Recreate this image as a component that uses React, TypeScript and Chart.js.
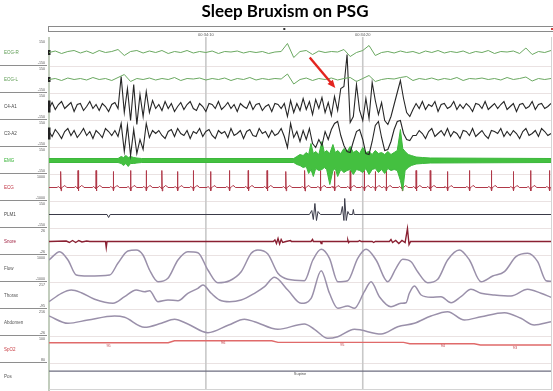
import React, { useEffect, useRef } from 'react';
import { Chart, registerables } from 'chart.js';

Chart.register(...registerables);

// ---------------- text ----------------
const TITLE = 'Sleep Bruxism on PSG';
const EPOCH_SECONDS = 32;
const gridTimes = [10, 20];
const gridTimeLabels = ['00:34:10', '00:34:20'];
const cursorTime = 15;

const channelNames = ['EOG-R', 'EOG-L', 'C4-A1', 'C3-A2', 'EMG', 'ECG', 'PLM1', 'Snore', 'Flow', 'Thorax', 'Abdomen', 'SpO2', 'Pos'];
const channelTopLabels = ['150', '150', '150', '150', '150', '1000', '150', '26', '1000', '217', '216', '100', ''];
const channelBottomLabels = ['-150', '-150', '-150', '-150', '-150', '-1000', '-150', '-26', '-1000', '-95', '-26', '80', ''];
// display range of each channel (value at top / bottom of its row)
const channelHigh = [13.5, 13.5, 13.5, 13.5, 13.5, 13.5, 13.5, 13.5, 13.5, 13.5, 13.5, 100, 4];
const channelLow = [-13.5, -13.5, -13.5, -13.5, -13.5, -13.5, -13.5, -13.5, -13.5, -13.5, -13.5, 80, 0];

// ---------------- signals ----------------
// EOG, sampled every 0.4 s
const eogR = [0, 1.5, -1, 1, 2, -0.5, 1.5, -1, 2, 0, 1, 3, -3, 1, 2, -0.5, 1.5, 0, 2, -1, 1, 0, 2, -0.5, 1, 0, 1.5, -1, 1, 0.5, 1.5, -0.5, 1, 0, 1, -1, 0.5, 1, 9, -5, 1, 2, -2, 1.5, 0, 1, 0.5, 3, -4, 0, 2, 7, -3, 0, 1, -0.5, 1.5, 0, 1, -1, 1.5, 0, 2, -0.5, 1, 0, 1.5, -1, 1, 0, 2, -1, 1, 0.5, 1.5, -1, 4.5, -2, 1, 0, 2];
const eogL = [0, 1, -1, 1.5, 0, 1, -0.5, 2, 0, 1, -1, 2, 5, -2, 1, 0, 1.5, -0.5, 1, 0, 2, -1, 1, 0.5, 1.5, -0.5, 1, 0, 1.5, -1, 1, 0, 2, -0.5, 1, 0, 1, 0.5, 5.5, -4.5, 0, 1.5, -1, 1, 0, 1.5, -0.5, 1, 2, -2, 1, 4, -2, 0, 1, 0.5, 2, 3, -1, 1, 0, 1.5, -0.5, 1, 0, 2, -1, 1, 0.5, 1.5, 0, 1, -0.5, 2, 0, 1, 2.5, -1.5, 1, 0, 1];
// EEG, sampled every 0.2 s
const c4a1 = [
  -2, 4, -3, 2, 5, -2, 1, 4, -5, 2, 3, -4, 0, 5, -2, 2, -4, 3, 0, -5, 2, 4, -2,
  30, -6, 18, -14, 22, -18, 12, -10, 15, -6, 6, -2,
  2, -4, 5, -2, 3, -5, 0, 4, -3, 2, 5, -2, -4, 3, 0, -5, 3, 2, -2, 5, -3, 0, 4, -2, 2, -5, 3, 0, -2, 5, -3, 2, 3, -4, 0, 2, -5, 3, 2, -2, 3,
  -10, 6, -6, 3, -4, 8, -3, 5, -8, 7, -2, 9, -6, 4, -9, 10, -4, 18, 20, 52, -16, -10, 22, -4, -14, 8, -12, 24, 6, -8, 4, -14, -18, -10, 2, 14, 26, 8, -6, -10, -3,
  3, -2, 5, -3, 2, 0, 5, -5, 2, 3, -2, 0, 5, -3, 2, -2, 3, 0, -5, 3, 2, -2, 5, -3, 0, 3, -2, 2, 5, -3, 0, 3, -5, 2, 3, -2, 0, 5, -3, 2, 3, -2, 0, 3,
];
const c3a2 = [
  2, -3, 4, 0, -5, 2, 5, -2, 3, -4, 0, 5, -2, 2, -5, 3, 0, -4, 5, 2, -2, 3, -3,
  10, -18, 8, -22, 4, -20, -6, -16, 10, -4, 3, 0,
  3, -2, -5, 2, 4, -3, 5, 0, -2, 3, -5, 2, 0, 5, -3, 2, 4, -2, -5, 3, 0, 2, -4, 5, -2, 0, 3, -5, 2, 4, -2, -3, 5, 0, 2, -4, 3, -2, 0, 5, -3,
  -14, 10, -4, 2, -8, 3, -6, 5, -10, -14, -6, -12, 2, -6, 4, 10, 12, -2, -12, -18, -19, -8, 2, 4, -6, -20, -21, -8, 8, 12, -4, -17, -16, -8, 4, 12, 13, 0, -6, -7, -2,
  -2, 3, 0, -5, 2, 5, -3, 0, 3, -2, 5, -3, 2, 0, -5, 3, 2, -2, 5, -3, 0, 3, -2, -5, 3, 2, 0, 5, -3, 2, -2, 3, 0, -5, 2, 5, -2, 0, 3, -3, 5, 2, -2, 0,
];
// EMG envelope
const emgTimes = [0, 4.4, 4.6, 4.75, 4.9, 5.05, 5.2, 5.4, 5.6, 5.9, 15.6, 15.8, 16.0, 16.2, 16.4, 16.55, 16.7, 16.85, 17.0, 17.2, 17.4, 17.55, 17.7, 17.9, 18.1, 18.25, 18.4, 18.6, 18.8, 19.0, 19.2, 19.4, 19.6, 19.8, 20.0, 20.2, 20.4, 20.6, 20.8, 21.0, 21.2, 21.4, 21.6, 21.8, 22.0, 22.2, 22.4, 22.55, 22.7, 22.9, 23.1, 23.4, 23.8, 24.3, 32];
const emgHigh = [2, 2, 4, 3, 5, 3, 4, 3, 2.5, 2, 2, 4, 6, 5, 8, 6, 17, 7, 9, 6, 19, 8, 10, 7, 16, 8, 10, 7, 12, 9, 14, 8, 10, 7, 13, 8, 9, 6, 10, 7, 8, 6, 9, 6, 8, 10, 31, 12, 9, 6, 5, 3.5, 3, 2.5, 2];
const emgLow = [-2, -2, -3, -5, -3, -6, -3, -3, -2.5, -2, -2, -4, -5, -7, -6, -13, -9, -16, -8, -10, -9, -7, -9, -24, -10, -8, -16, -9, -12, -10, -9, -14, -9, -10, -12, -8, -14, -9, -8, -12, -9, -13, -8, -10, -9, -10, -20, -30, -10, -7, -5, -3.5, -3, -2.5, -2];
// ECG: R-peak times, R heights and one beat shape
const ecgBeats = [0.75, 1.85, 3.0, 4.1, 5.2, 6.2, 7.2, 8.2, 9.2, 10.3, 11.5, 12.7, 13.9, 15.1, 16.3, 17.3, 18.2, 19.2, 20.1, 20.8, 21.5, 22.5, 23.4, 24.3, 25.4, 26.8, 28.2, 29.6, 30.7, 31.9];
const ecgHeights = [16, 17, 17, 16, 17, 17, 17, 16, 17, 16, 17, 17, 17, 16, 17, 17, 16, 17, 17, 16, 17, 16, 17, 17, 16, 17, 17, 16, 17, 17];
const ecgShapeT = [-0.22, -0.16, -0.1, -0.04, -0.015, 0, 0.02, 0.05, 0.12, 0.22, 0.3, 0.38];
const ecgShapeV = [0, 1.2, 0, 0, -1.5, 17, -3.5, 0, 0.3, 2, 1.5, 0];
// PLM1
const plmTimes = [0, 3.7, 3.8, 3.9, 16.6, 16.75, 16.85, 16.95, 17.05, 17.15, 17.3, 18.6, 18.7, 18.8, 18.85, 18.95, 19.05, 19.15, 19.35, 19.4, 19.45, 32];
const plmValues = [0, 0, -3, 0, 0, 4, -5, 11, -6, 3, 0, 0, 8, -6, 16, -6, 3, 0, 0, 5, 0, 0];
// Snore
const snoreTimes = [0, 1.1, 1.3, 1.5, 1.7, 1.9, 2.1, 2.4, 2.6, 3.6, 3.65, 3.7, 14.3, 14.4, 14.5, 14.6, 14.7, 14.8, 14.9, 15.1, 15.4, 15.45, 16.7, 16.8, 16.85, 17.3, 17.35, 17.4, 19.0, 19.05, 19.1, 19.15, 19.7, 19.8, 19.9, 20.6, 20.7, 20.8, 21.7, 21.8, 21.9, 22.1, 22.3, 22.5, 22.7, 22.85, 22.95, 23.05, 32];
const snoreValues = [0, 0.5, -1, 1, -1, 1, -0.5, 0.5, 0, 0, -6, 0, 0, 1.5, -2, 3, -2.5, 2, -1, 0, 1, 0, 0, 2, 0, 0, -2, 0, 0, 1.5, -1, 0, 0, 1, 0, 0, -1, 0, 0, 2, -1, 1, -2, 1, -1, 13, -3, 0, 0];
// Respiration
const flowTimes = [0, 0.68, 1.21, 1.74, 2.48, 3.87, 4.39, 5.03, 5.56, 5.99, 6.41, 6.94, 7.58, 8.22, 8.85, 9.49, 10.13, 10.76, 11.51, 12.25, 12.89, 13.31, 13.95, 14.59, 15.22, 16.28, 16.82, 17.35, 17.88, 18.41, 19.04, 19.68, 20.21, 20.85, 21.59, 22.12, 22.55, 23.08, 23.5, 24.14, 24.78, 25.41, 26.16, 26.8, 27.54, 28.28, 29.03, 29.77, 30.51, 31.15, 31.68, 32];
const flowValues = [8.5, 16.8, 8.5, -6.5, -7.5, -6.5, 5.2, 17.5, 18.5, 13.5, -1.5, -13.2, -9.8, 8.5, 16.8, 15.8, -1.5, -14.2, -12.2, -3.2, 15.2, 18.5, 14.5, -4.8, -10.8, -12.2, 8.5, 19.2, 10.2, -13.2, -12.2, 10.2, 19.2, 8.5, -13.2, 0.2, 9.2, 6.8, -3.2, -14.2, -10.8, 8.5, 18.5, 8.5, -13.2, -7.5, -3.2, 11.8, 15.2, 6.8, -12.2, -12.8];
const thoraxTimes = [0, 0.79, 1.42, 2.06, 2.91, 4.08, 4.82, 5.56, 6.09, 6.41, 6.94, 7.58, 8.22, 8.85, 9.49, 9.81, 10.34, 10.87, 11.51, 12.25, 13.1, 13.74, 14.37, 15.22, 16.07, 16.71, 17.35, 17.88, 18.41, 19.04, 19.47, 20.1, 20.53, 21.06, 21.8, 22.44, 22.76, 22.97, 23.29, 23.72, 24.35, 24.99, 25.63, 26.26, 26.9, 27.54, 28.39, 29.45, 30.51, 31.36, 32];
const thoraxValues = [-6.2, 2.2, 5.5, 2.8, -3.8, -7.8, -1.2, 5.5, 3.8, 4.8, -6.2, -4.5, -5.2, 2.2, 7.2, 10.5, 2.2, -4.5, -6.2, -4.5, 2.2, 8.8, 18.2, 5.5, -7.8, -2.8, 24.8, 2.2, -12.8, -10.5, -12.8, 3.8, 13.8, -1.2, -11.2, -7.8, -7.2, 2.2, 9.5, 0.5, -1.8, -1.2, -7.2, -1.2, 6.2, 2.2, 0.5, -0.5, 6.2, 2.2, -1.8];
const abdomenTimes = [0, 1.21, 2.48, 4.18, 4.82, 6.09, 7.16, 8.0, 8.85, 10.13, 11.45, 12.46, 13.1, 14.59, 16.28, 16.92, 17.77, 18.41, 19.47, 21.17, 22.23, 23.29, 24.35, 25.41, 26.48, 27.54, 29.03, 30.08, 30.93, 32];
const abdomenValues = [6.5, -0.8, 2.5, 6.5, 5.2, -4.8, -0.8, 3.2, -1.5, -10.2, -2.5, 3.2, 0.8, -6.8, -1.5, -6.8, -15.8, -14.2, -6.8, -11.5, -4.2, -0.8, 6.5, 10.8, 2.5, 5.8, 9.8, 4.2, -2.5, 0.8];
// SpO2 (%)
const spo2Times = [0, 7.6, 8.0, 14.2, 14.6, 22.6, 23.0, 27.1, 27.5, 32];
const spo2Values = [95, 95, 96.5, 96.5, 95.3, 95.3, 94.3, 94.3, 93.3, 93.3];
const spo2LabelTimes = [3.8, 11.1, 18.7, 25.1, 29.7];
// Body position
const posTimes = [0, 32];
const posStates = ['Supine', 'Supine'];
const posLevels: Record<string, number> = { Supine: 2.8 };

// annotation arrow (time s, row units)
const arrowTail = { t: 16.62, row: 0.685 };
const arrowTip = { t: 18.25, row: 1.815 };

// ---------------- helpers ----------------
const labelColors = ['#5a9a50', '#5a9a50', '#444', '#444', '#30b030', '#c03040', '#444', '#a02040', '#555', '#555', '#555', '#c83a40', '#555'];

const toRow = (ch: number, v: number) => ch + (channelHigh[ch] - v) / (channelHigh[ch] - channelLow[ch]);
const uniform = (ch: number, arr: number[]) => arr.map((v, i) => ({ x: (i * EPOCH_SECONDS) / (arr.length - 1), y: toRow(ch, v) }));
const paired = (ch: number, ts: number[], vs: number[]) => ts.map((t, i) => ({ x: t, y: toRow(ch, vs[i]) }));

function buildEcg() {
  const pts = [{ x: 0, y: toRow(5, 0) }];
  ecgBeats.forEach((bt, b) => {
    const k = ecgHeights[b] / 17;
    ecgShapeT.forEach((dt, j) => pts.push({ x: bt + dt, y: toRow(5, ecgShapeV[j] * k) }));
  });
  return pts;
}

function spo2At(t: number) {
  let v = spo2Values[0];
  for (let i = 0; i < spo2Times.length; i++) if (spo2Times[i] <= t) v = spo2Values[i];
  return v;
}

const line = (data: any[], color: string, width: number, extra: any = {}) => ({
  data,
  borderColor: color,
  borderWidth: width,
  pointRadius: 0,
  tension: 0,
  fill: false,
  ...extra,
});

const psgPlugin = {
  id: 'psg',
  beforeDatasetsDraw(chart: any) {
    const { ctx, chartArea, scales } = chart;
    const { left, right, top, bottom } = chartArea;
    const x = scales.x;
    const y = scales.y;
    ctx.save();
    // row boundaries inside plot
    ctx.strokeStyle = 'rgba(226,214,214,0.9)';
    ctx.lineWidth = 0.8;
    for (let k = 1; k < channelNames.length; k++) {
      const py = Math.round(y.getPixelForValue(k)) + 0.5;
      ctx.beginPath();
      ctx.moveTo(left, py);
      ctx.lineTo(right, py);
      ctx.stroke();
    }
    // separators in label column
    ctx.strokeStyle = '#8e8e8e';
    ctx.lineWidth = 1;
    for (let k = 1; k < channelNames.length; k++) {
      const py = Math.round(y.getPixelForValue(k)) - 0.5;
      ctx.beginPath();
      ctx.moveTo(0, py);
      ctx.lineTo(left - 2, py);
      ctx.stroke();
    }
    // vertical grid
    ctx.strokeStyle = '#c8c8c8';
    ctx.lineWidth = 1.6;
    gridTimes.forEach((t) => {
      const px = x.getPixelForValue(t);
      ctx.beginPath();
      ctx.moveTo(px, top - 2);
      ctx.lineTo(px, bottom);
      ctx.stroke();
    });
    // borders
    ctx.strokeStyle = '#c2cdbd';
    ctx.lineWidth = 2;
    ctx.beginPath();
    ctx.moveTo(left, top - 2);
    ctx.lineTo(left, bottom + 1);
    ctx.stroke();
    ctx.strokeStyle = '#d4d4d4';
    ctx.lineWidth = 1;
    ctx.beginPath();
    ctx.moveTo(right + 0.5, top - 2);
    ctx.lineTo(right + 0.5, bottom);
    ctx.moveTo(left, bottom - 0.5);
    ctx.lineTo(right, bottom - 0.5);
    ctx.stroke();
    // time bar
    ctx.strokeStyle = '#8a8a8a';
    ctx.lineWidth = 1;
    ctx.strokeRect(left - 0.5, 26.5, right - left + 3, 5);
    ctx.fillStyle = '#333';
    ctx.fillRect(x.getPixelForValue(cursorTime) - 1, 28, 2, 2);
    ctx.fillStyle = '#d04040';
    ctx.fillRect(right, 28, 2, 2);
    // time labels
    ctx.font = '4px "Liberation Sans"';
    ctx.fillStyle = '#555';
    ctx.textAlign = 'center';
    ctx.textBaseline = 'middle';
    gridTimes.forEach((t, i) => ctx.fillText(gridTimeLabels[i], x.getPixelForValue(t), 35));
    // channel names and scale labels
    channelNames.forEach((name, i) => {
      const cy = y.getPixelForValue(i + 0.5);
      ctx.font = '4.5px "Liberation Sans"';
      ctx.fillStyle = labelColors[i];
      ctx.textAlign = 'left';
      ctx.textBaseline = 'middle';
      ctx.fillText(name, 4, cy);
      ctx.font = '3.6px "Liberation Sans"';
      ctx.fillStyle = '#555';
      ctx.textAlign = 'right';
      ctx.textBaseline = 'top';
      if (channelTopLabels[i]) ctx.fillText(channelTopLabels[i], left - 4, y.getPixelForValue(i) + 1);
      ctx.textBaseline = 'bottom';
      if (channelBottomLabels[i]) ctx.fillText(channelBottomLabels[i], left - 4, y.getPixelForValue(i + 1) - 1.5);
    });
    // calibration markers
    ctx.fillStyle = '#222';
    [[0, 5], [1, 5], [2, 12], [3, 12]].forEach(([ch, h]) => {
      const cy = y.getPixelForValue(ch + 0.5);
      ctx.fillRect(left - 1, cy - h / 2, 2.5, h);
    });
    ctx.restore();
  },
  afterDatasetsDraw(chart: any) {
    const { ctx, scales } = chart;
    const x = scales.x;
    const y = scales.y;
    ctx.save();
    // SpO2 value labels
    ctx.font = '3.8px "Liberation Sans"';
    ctx.fillStyle = '#c04048';
    ctx.textAlign = 'center';
    ctx.textBaseline = 'top';
    spo2LabelTimes.forEach((t) => {
      const v = spo2At(t);
      ctx.fillText(String(Math.floor(v)), x.getPixelForValue(t), y.getPixelForValue(toRow(11, v)) + 0.8);
    });
    // position label
    ctx.fillStyle = '#555';
    ctx.font = '4px "Liberation Sans"';
    const mid = (posTimes[0] + posTimes[posTimes.length - 1]) / 2;
    ctx.fillText(posStates[0], x.getPixelForValue(mid), y.getPixelForValue(toRow(12, posLevels[posStates[0]])) + 0.8);
    // arrow
    const x0 = x.getPixelForValue(arrowTail.t);
    const y0 = y.getPixelForValue(arrowTail.row);
    const x1 = x.getPixelForValue(arrowTip.t);
    const y1 = y.getPixelForValue(arrowTip.row);
    const ang = Math.atan2(y1 - y0, x1 - x0);
    const head = 8;
    ctx.strokeStyle = '#e3241f';
    ctx.fillStyle = '#e3241f';
    ctx.lineWidth = 2.4;
    ctx.beginPath();
    ctx.moveTo(x0, y0);
    ctx.lineTo(x1 - head * 0.8 * Math.cos(ang), y1 - head * 0.8 * Math.sin(ang));
    ctx.stroke();
    ctx.beginPath();
    ctx.moveTo(x1, y1);
    ctx.lineTo(x1 - head * Math.cos(ang) + 3.5 * Math.sin(ang), y1 - head * Math.sin(ang) - 3.5 * Math.cos(ang));
    ctx.lineTo(x1 - head * Math.cos(ang) - 3.5 * Math.sin(ang), y1 - head * Math.sin(ang) + 3.5 * Math.cos(ang));
    ctx.closePath();
    ctx.fill();
    // title
    ctx.fillStyle = '#000';
    ctx.font = 'bold 17px Lato';
    ctx.textAlign = 'center';
    ctx.textBaseline = 'alphabetic';
    ctx.fillText(TITLE, 285, 17);
    ctx.restore();
  },
};

export default function App() {
  const ref = useRef<HTMLCanvasElement>(null);
  useEffect(() => {
    if (!ref.current) return;
    const resp = { tension: 0.4, cubicInterpolationMode: 'monotone' };
    const chart = new Chart(ref.current, {
      type: 'line',
      data: {
        datasets: [
          line(uniform(0, eogR), '#6aa860', 1),
          line(uniform(1, eogL), '#6aa860', 1),
          line(uniform(2, c4a1), '#262626', 1.1),
          line(uniform(3, c3a2), '#262626', 1.1),
          line(paired(4, emgTimes, emgHigh), '#3cb83c', 1),
          line(paired(4, emgTimes, emgLow), '#3cb83c', 1, { fill: '-1', backgroundColor: '#44c040' }),
          line(buildEcg(), '#b03848', 1),
          line(paired(6, plmTimes, plmValues), '#3a3a48', 1),
          line(paired(7, snoreTimes, snoreValues), '#8a2032', 1.4),
          line(paired(8, flowTimes, flowValues), '#9a90aa', 1.5, resp),
          line(paired(9, thoraxTimes, thoraxValues), '#9a90aa', 1.5, resp),
          line(paired(10, abdomenTimes, abdomenValues), '#9a90aa', 1.5, resp),
          line(paired(11, spo2Times, spo2Values), '#e06a6a', 1.4),
          line(posTimes.map((t, i) => ({ x: t, y: toRow(12, posLevels[posStates[i]]) })), '#6e6e80', 1.4),
        ],
      },
      options: {
        animation: false,
        responsive: false,
        maintainAspectRatio: false,
        devicePixelRatio: 1,
        layout: { padding: { left: 49, right: 2, top: 39, bottom: 1 } },
        plugins: { legend: { display: false }, tooltip: { enabled: false }, title: { display: false } },
        scales: {
          x: { type: 'linear', min: 0, max: EPOCH_SECONDS, display: false },
          y: { type: 'linear', min: 0, max: channelNames.length, reverse: true, display: false },
        },
      } as any,
      plugins: [psgPlugin],
    });
    return () => chart.destroy();
  }, []);
  return (
    <div style={{ position: 'absolute', left: 0, top: 0, width: 553, height: 391, background: '#fff' }}>
      <canvas ref={ref} width={553} height={391} style={{ width: 553, height: 391, display: 'block' }} />
    </div>
  );
}
